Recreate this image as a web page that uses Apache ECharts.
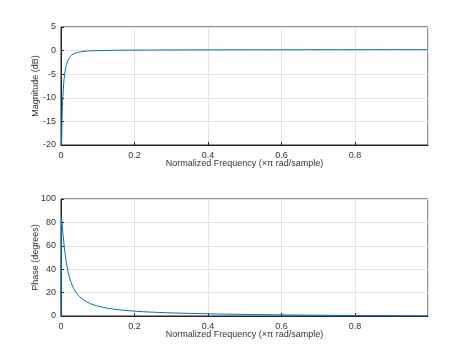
<!DOCTYPE html>
<html>
<head>
<meta charset="utf-8">
<script src="https://cdn.jsdelivr.net/npm/echarts@6/dist/echarts.min.js"></script>
<style>
html,body{margin:0;padding:0;background:#fff;}
#c{width:474px;height:355px;}
</style>
</head>
<body>
<div id="c"></div>
<script>
const freq = [0, 0.0015, 0.003, 0.005, 0.0075, 0.01, 0.0125, 0.015, 0.02, 0.025, 0.03, 0.04, 0.05, 0.06, 0.08, 0.1, 0.13, 0.16, 0.2, 0.25, 0.3, 0.4, 0.5, 0.6, 0.7, 0.8, 0.9, 0.999];
const magnitude = [-20, -19.5, -13.9, -9.8, -6.8, -5.0, -3.8, -2.9, -1.9, -1.3, -0.9, -0.5, -0.3, -0.2, -0.05, 0.0, 0.05, 0.08, 0.1, 0.12, 0.14, 0.16, 0.17, 0.18, 0.19, 0.19, 0.2, 0.2];
const phase = [0, 84.3, 78.7, 71.6, 63.4, 56.3, 50.2, 45.0, 36.8, 30.9, 26.5, 20.5, 16.7, 14.0, 10.55, 8.45, 6.5, 5.24, 4.14, 3.25, 2.65, 1.85, 1.34, 0.98, 0.69, 0.44, 0.21, 0.0];
const xName = 'Normalized Frequency (\u00d7\u03c0 rad/sample)';
const magName = 'Magnitude (dB)';
const phaseName = 'Phase (degrees)';

const chart = echarts.init(document.getElementById('c'), null, {renderer: 'canvas'});
const font = 'Liberation Sans, Arial, Helvetica, sans-serif';
const txt = '#333333';
function xAxis(idx) {
  return {
    type: 'value', gridIndex: idx, min: 0, max: 0.999, interval: 0.2,
    name: xName, nameLocation: 'middle', nameGap: 14, nameMoveOverlap: false,
    nameTextStyle: {color: txt, fontSize: 9, fontFamily: font},
    axisLine: {show: true, onZero: false, lineStyle: {color: '#262626', width: 1}},
    axisTick: {show: true, inside: true, length: 3, lineStyle: {color: '#262626'}},
    axisLabel: {color: txt, fontSize: 9, fontFamily: font, margin: 6, showMaxLabel: false,
      formatter: v => v === 0 ? '0' : String(Math.round(v * 10) / 10)},
    splitLine: {show: true, lineStyle: {color: '#e3e3e3', width: 1}}
  };
}
function yAxis(idx, min, max, interval, name) {
  return {
    type: 'value', gridIndex: idx, min: min, max: max, interval: interval,
    name: name, nameLocation: 'middle', nameGap: 21, nameRotate: 90, nameMoveOverlap: false,
    nameTextStyle: {color: txt, fontSize: 9, fontFamily: font},
    axisLine: {show: true, onZero: false, lineStyle: {color: '#262626', width: 1}},
    axisTick: {show: true, inside: true, length: 3, lineStyle: {color: '#262626'}},
    axisLabel: {color: txt, fontSize: 9, fontFamily: font, margin: 5},
    splitLine: {show: true, lineStyle: {color: '#e3e3e3', width: 1}}
  };
}
chart.setOption({
  animation: false,
  backgroundColor: '#ffffff',
  grid: [
    {left: 61, top: 27, width: 367, height: 118, show: true, borderColor: '#262626', borderWidth: 1, backgroundColor: '#fff'},
    {left: 61, top: 199, width: 367, height: 117, show: true, borderColor: '#262626', borderWidth: 1, backgroundColor: '#fff'}
  ],
  xAxis: [xAxis(0), xAxis(1)],
  yAxis: [yAxis(0, -20, 5, 5, magName), yAxis(1, 0, 100, 20, phaseName)],
  series: [
    {type: 'line', xAxisIndex: 0, yAxisIndex: 0, showSymbol: false, smooth: 0.3,
      data: freq.map((f, i) => [f, magnitude[i]]),
      lineStyle: {color: '#0072BD', width: 1}, itemStyle: {color: '#0072BD'}},
    {type: 'line', xAxisIndex: 1, yAxisIndex: 1, showSymbol: false, smooth: 0.3,
      data: freq.map((f, i) => [f, phase[i]]),
      lineStyle: {color: '#0072BD', width: 1}, itemStyle: {color: '#0072BD'}}
  ]
});
</script>
</body>
</html>
